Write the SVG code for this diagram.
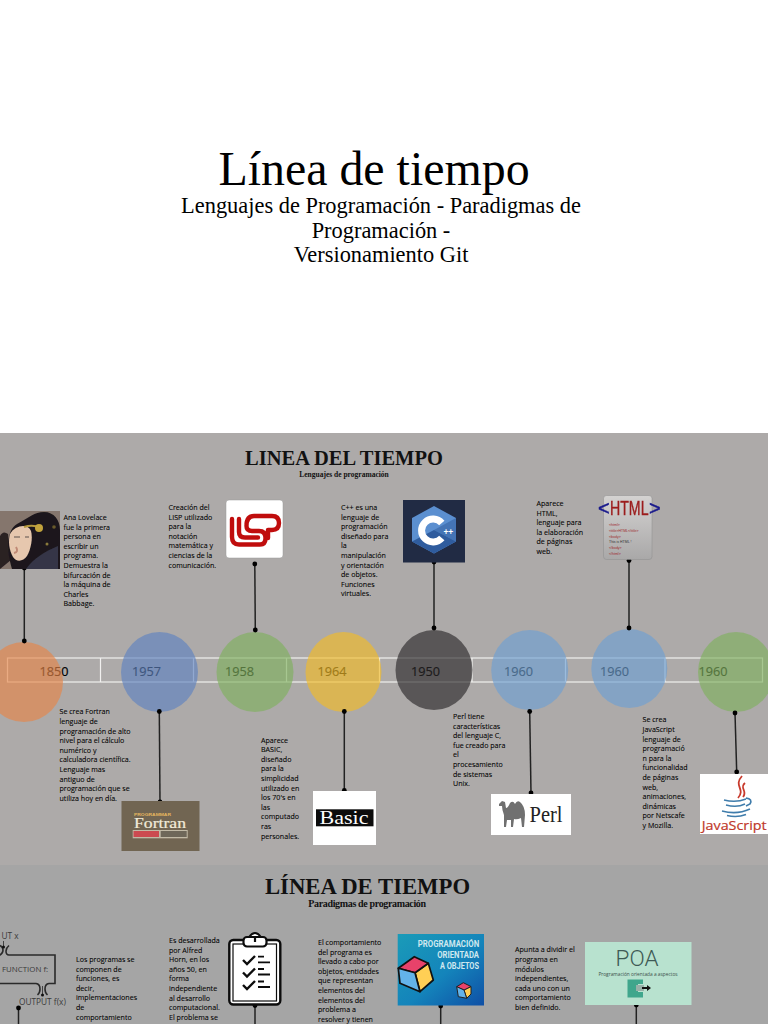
<svg xmlns="http://www.w3.org/2000/svg" width="768" height="1024" viewBox="0 0 768 1024">
<style>
.b{font:7.1px "Open Sans","Noto Sans",sans-serif;fill:#000;stroke:#000;stroke-width:.08}
.s{font-family:"Liberation Serif",serif;fill:#000;text-anchor:middle}
.h{font-weight:700;fill:#111}
.y{font:12.7px "Open Sans","Noto Sans",sans-serif;fill:#000;stroke:#000;stroke-width:.2}
.c{opacity:.65}
.l{fill:none;stroke:#222;stroke-width:1.5;marker-start:url(#dot);marker-end:url(#dot)}
.l2{fill:none;stroke:#222;stroke-width:1.5;marker-start:url(#dot)}
.f{font-family:"Open Sans",sans-serif;fill:#3a3a3a}
</style>
<defs>
<marker id="dot" markerUnits="userSpaceOnUse" markerWidth="6" markerHeight="6" refX="3" refY="3"><circle cx="3" cy="3" r="2.4" fill="#000"/></marker>
<linearGradient id="poo" x1="0" y1="0" x2="1" y2="1"><stop offset="0" stop-color="#1a9bb8"/><stop offset=".55" stop-color="#1484bb"/><stop offset="1" stop-color="#0f4fa5"/></linearGradient>
<linearGradient id="ht" x1="0" y1="0" x2="0" y2="1"><stop offset="0" stop-color="#d4d2d1"/><stop offset="1" stop-color="#a9a8a8"/></linearGradient>
<filter id="sf"><feGaussianBlur stdDeviation=".4"/></filter>
</defs>
<rect width="768" height="1024" fill="#fff"/>
<g id="titulo">
<text class="s" x="374" y="185" font-size="47.9">Línea de tiempo</text>
<text class="s" x="381" y="213" font-size="22.4">Lenguajes de Programación - Paradigmas de</text>
<text class="s" x="381" y="238" font-size="22.4">Programación -</text>
<text class="s" x="381" y="262" font-size="22.4">Versionamiento Git</text>
</g>
<rect id="fondo1" y="433" width="768" height="432" fill="#adaaa9"/>
<rect id="fondo2" y="865" width="768" height="159" fill="#a5a5a5"/>
<g id="cabecera1">
<text class="s h" x="344" y="465" font-size="20.5">LINEA DEL TIEMPO</text>
<text class="s h" x="344" y="476.500" font-size="7.500">Lenguajes de programación</text>
</g>
<g id="cabecera2">
<text class="s h" x="367.500" y="894" font-size="22.700">LÍNEA DE TIEMPO</text>
<text class="s h" x="367" y="906.500" font-size="10" letter-spacing="-.35">Paradigmas de programación</text>
</g>
<g id="tabla" fill="none" stroke="#f1f0ef" stroke-width="1.2">
<rect x="7.500" y="658" width="755" height="24"/>
<path d="M100.500 658v24M193.500 658v24M286.500 658v24M379.500 658v24M472 658v24M565.500 658v24M665 658v24"/>
</g>
<g id="anios">
<text class="y" x="39.500" y="676">1850</text>
<text class="y" x="132" y="676">1957</text>
<text class="y" x="225" y="676">1958</text>
<text class="y" x="317.500" y="676">1964</text>
<text class="y" x="411" y="676">1950</text>
<text class="y" x="504" y="676">1960</text>
<text class="y" x="600" y="676">1960</text>
<text class="y" x="698.500" y="676">1960</text>
</g>
<g id="circulos">
<ellipse id="n1850" class="c" cx="24" cy="682" rx="39" ry="40" fill="#e68548"/>
<ellipse id="n1957" class="c" cx="159.500" cy="672" rx="38.500" ry="40" fill="#5f82c0"/>
<ellipse id="n1958" class="c" cx="255" cy="672" rx="38.500" ry="40" fill="#7fb05e"/>
<ellipse id="n1964" class="c" cx="343.500" cy="672" rx="38" ry="40" fill="#f2bc26"/>
<ellipse id="n1950" class="c" cx="434" cy="670" rx="38.500" ry="40" fill="#2c2a2b"/>
<ellipse id="n1960a" class="c" cx="529.700" cy="670" rx="38.500" ry="40" fill="#6e9fd2"/>
<ellipse id="n1960b" class="c" cx="629.300" cy="668.500" rx="38" ry="39.500" fill="#6e9fd2"/>
<ellipse id="n1960c" class="c" cx="736" cy="672" rx="38" ry="40" fill="#7fb05e"/>
</g>
<g id="conectores">
<path class="l" d="M24.300 568V641"/>
<path class="l" d="M254.800 564L255.300 630"/>
<path class="l" d="M434 562V628"/>
<path class="l" d="M629 560.500V628"/>
<path class="l" d="M159.300 711.500L160 802"/>
<path class="l" d="M344.300 711.500V790.500"/>
<path class="l" d="M529.700 711.500L531 793"/>
<path class="l" d="M735 713L736.700 772"/>
<path class="l2" d="M18.500 1008V1024"/>
<path class="l2" d="M255 1005.500V1024"/>
<path class="l2" d="M440.700 1006V1024"/>
<path class="l2" d="M636.300 1005V1024"/>
</g>
<g id="ada">
<g filter="url(#sf)">
<rect x="0" y="511" width="60" height="58" fill="#85766d"/>
<path d="M0 536Q3 530 8 534L11 560L0 569Z" fill="#2a2024"/>
<path d="M12 569C6 548 7 530 17 524C30 517 34 512 44 512C54 512 60 520 60 530V569Z" fill="#1d181c"/>
<path d="M10 534C15 525 28 523 31 531C33 538 31 549 27 556C23 562 16 562 13 557C9 550 8 541 10 534Z" fill="#e6c7ae"/>
<path d="M16 547Q19 552 14 553" fill="none" stroke="#c08a76" stroke-width="2"/>
<path d="M14 537H20M25 537H29" stroke="#8a7a6e" stroke-width="1.300"/>
<path d="M24 527Q33 524 41 528" fill="none" stroke="#b4983d" stroke-width="2"/>
<circle cx="39" cy="528" r="4" fill="#c2a33c"/>
<circle cx="47" cy="544" r="1.500" fill="#8a7a3a"/>
<circle cx="54" cy="527" r="1.800" fill="#6a5a2c"/>
<path d="M26 569C34 558 44 552 58 546V569Z" fill="#343547"/>
</g>
<text class="b"><tspan x="63.500" y="520">Ana Lovelace</tspan><tspan x="63.500" y="529.600">fue la primera</tspan><tspan x="63.500" y="539.200">persona en</tspan><tspan x="63.500" y="548.800">escribir un</tspan><tspan x="63.500" y="558.400">programa.</tspan><tspan x="63.500" y="568">Demuestra la</tspan><tspan x="63.500" y="577.600">bifurcación de</tspan><tspan x="63.500" y="587.200">la máquina de</tspan><tspan x="63.500" y="596.800">Charles</tspan><tspan x="63.500" y="606.400">Babbage.</tspan></text>
</g>
<g id="lisp">
<rect x="226" y="500" width="57" height="58" rx="3" fill="#fff" stroke="#999" stroke-width=".5"/>
<g fill="none" stroke="#c00c0c" stroke-width="4.400" stroke-linecap="round" stroke-linejoin="round" filter="url(#sf)">
<path d="M232 519V537Q232 544.500 239 544.500H260Q265.500 544.500 265.500 538Q265.500 531 259 531H252Q246.500 531 246.500 526Q246.500 516 254 516H272Q279 516 279 523Q279 530 272 530H268V538"/>
<path d="M239 519V532Q239 537.500 245 537.500H258"/>
</g>
<text class="b"><tspan x="168.500" y="510">Creación del</tspan><tspan x="168.500" y="519.600">LISP utilizado</tspan><tspan x="168.500" y="529.200">para la</tspan><tspan x="168.500" y="538.800">notación</tspan><tspan x="168.500" y="548.400">matemática y</tspan><tspan x="168.500" y="558">ciencias de la</tspan><tspan x="168.500" y="567.600">comunicación.</tspan></text>
</g>
<g id="cpp">
<rect x="403" y="500" width="62" height="62.500" fill="#212b44"/>
<path d="M434 506L456 518V541.500L434 553.500L412 541.500V518Z" fill="#5b8fd0"/>
<path d="M456 518V541.500L434 530Z" fill="#4474b5"/>
<path d="M434 530L456 541.500L434 553.500L412 541.500Z" fill="#2f5c9e"/>
<path d="M441.800 523A11.500 11.500 0 1 0 441.800 538" fill="none" stroke="#fff" stroke-width="7"/>
<text x="443.500" y="534.500" font-family="Liberation Sans,sans-serif" font-weight="700" font-size="8.500" fill="#fff" letter-spacing="-.2">++</text>
<text class="b"><tspan x="341" y="510">C++ es una</tspan><tspan x="341" y="519.600">lenguaje de</tspan><tspan x="341" y="529.200">programación</tspan><tspan x="341" y="538.800">diseñado para</tspan><tspan x="341" y="548.400">la</tspan><tspan x="341" y="558">manipulación</tspan><tspan x="341" y="567.600">y orientación</tspan><tspan x="341" y="577.200">de objetos.</tspan><tspan x="341" y="586.800">Funciones</tspan><tspan x="341" y="596.400">virtuales.</tspan></text>
</g>
<g id="html">
<rect x="603.500" y="495.500" width="48.500" height="64" rx="3" fill="url(#ht)" stroke="#8c8c8c" stroke-width=".5"/>
<g font-family="Liberation Sans,sans-serif" font-size="20" filter="url(#sf)" stroke-width=".4">
<text x="598" y="514.500" fill="#1a1a8c" stroke="#1a1a8c">&lt;</text>
<text x="610" y="514.500" fill="#9c1c1c" stroke="#9c1c1c" textLength="38.500" lengthAdjust="spacingAndGlyphs">HTML</text>
<text x="649" y="514.500" fill="#1a1a8c" stroke="#1a1a8c">&gt;</text>
</g>
<g font-family="Liberation Sans,sans-serif" font-size="3.500" fill="#a03030"><text x="609" y="526.300">&lt;html&gt;</text><text x="609" y="532">&lt;title&gt;HTML&lt;/title&gt;</text><text x="609" y="537.500">&lt;body&gt;</text><text x="609" y="543.200" fill="#333">This is HTML !</text><text x="609" y="549">&lt;/body&gt;</text><text x="609" y="554.700">&lt;/html&gt;</text></g>
<text class="b"><tspan x="536.500" y="506">Aparece</tspan><tspan x="536.500" y="515.600">HTML,</tspan><tspan x="536.500" y="525.200">lenguaje para</tspan><tspan x="536.500" y="534.800">la elaboración</tspan><tspan x="536.500" y="544.400">de páginas</tspan><tspan x="536.500" y="554">web.</tspan></text>
</g>
<g id="fortran">
<rect x="121.500" y="801" width="78" height="50" fill="#716552"/>
<text x="134" y="815.500" font-family="Liberation Sans,sans-serif" font-weight="700" font-size="3.700" fill="#e5b75f" textLength="37" lengthAdjust="spacingAndGlyphs">PROGRAMMAR</text>
<text x="134" y="827.500" font-family="Liberation Serif,serif" font-size="15" fill="#f1ebda" stroke="#f1ebda" stroke-width=".2" textLength="52" lengthAdjust="spacingAndGlyphs">Fortran</text>
<rect x="132.700" y="830" width="55" height="8.300" fill="#c2baa6"/>
<rect x="133.500" y="831" width="25.500" height="6" fill="#cc4a50"/>
<rect x="160.700" y="831" width="26" height="6" fill="#6e6759"/>
<text class="b"><tspan x="59.500" y="714.300">Se crea Fortran</tspan><tspan x="59.500" y="723.900">lenguaje de</tspan><tspan x="59.500" y="733.500">programación de alto</tspan><tspan x="59.500" y="743.100">nivel para el cálculo</tspan><tspan x="59.500" y="752.700">numérico y</tspan><tspan x="59.500" y="762.300">calculadora científica.</tspan><tspan x="59.500" y="771.900">Lenguaje mas</tspan><tspan x="59.500" y="781.500">antiguo de</tspan><tspan x="59.500" y="791.100">programación que se</tspan><tspan x="59.500" y="800.700">utiliza hoy en día.</tspan></text>
</g>
<g id="basic">
<rect x="313" y="791" width="63" height="54" fill="#fff"/>
<rect x="316" y="809.300" width="57.500" height="17" fill="#0c0c0c"/>
<text x="319.500" y="824" font-family="Liberation Serif,serif" font-size="19" fill="#fff" textLength="49" lengthAdjust="spacingAndGlyphs">Basic</text>
<text class="b"><tspan x="261" y="742.600">Aparece</tspan><tspan x="261" y="752.200">BASIC,</tspan><tspan x="261" y="761.800">diseñado</tspan><tspan x="261" y="771.400">para la</tspan><tspan x="261" y="781">simplicidad</tspan><tspan x="261" y="790.600">utilizado en</tspan><tspan x="261" y="800.200">los 70's en</tspan><tspan x="261" y="809.800">las</tspan><tspan x="261" y="819.400">computado</tspan><tspan x="261" y="829">ras</tspan><tspan x="261" y="838.600">personales.</tspan></text>
</g>
<g id="perl">
<rect x="491" y="794" width="80" height="41" fill="#fff"/>
<path d="M499 804L502 801L505 802L506 808Q508 808 510 803Q513 800 515 804Q517 800 520 802Q525 806 525 815L524 827H522L521 818Q517 820 514 819L513 827H511L511 820L507 820L506 827H504L504 815Q502 810 502 806L499 806Z" fill="#707070" filter="url(#sf)"/>
<text x="529.500" y="821.700" font-family="Liberation Serif,serif" font-size="22.500" fill="#222" textLength="33" lengthAdjust="spacingAndGlyphs">Perl</text>
<text class="b"><tspan x="453" y="719">Perl tiene</tspan><tspan x="453" y="728.600">características</tspan><tspan x="453" y="738.200">del lenguaje C,</tspan><tspan x="453" y="747.800">fue creado para</tspan><tspan x="453" y="757.400">el</tspan><tspan x="453" y="767">procesamiento</tspan><tspan x="453" y="776.600">de sistemas</tspan><tspan x="453" y="786.200">Unix.</tspan></text>
</g>
<g id="javascript">
<rect x="700" y="774" width="68" height="60" fill="#fff"/>
<path d="M742 776C733 786 746 789 738 798M745 783C739 788 748 791 743 797" fill="none" stroke="#c83a2c" stroke-width="1.800"/>
<path d="M724 800Q736 803 746 799M726 805Q737 808 745 804M722 811Q737 815 750 809M727 815.500Q737 818 746 814.500M746 798Q753 799 750 804L746 806" fill="none" stroke="#3f7cab" stroke-width="1.600"/>
<text x="701.700" y="830" font-family="Open Sans,sans-serif" font-size="13.500" fill="#c0392b" stroke="#c0392b" stroke-width=".2" textLength="65" lengthAdjust="spacingAndGlyphs">JavaScript</text>
<text class="b"><tspan x="642.500" y="722.300">Se crea</tspan><tspan x="642.500" y="731.900">JavaScript</tspan><tspan x="642.500" y="741.500">lenguaje de</tspan><tspan x="642.500" y="751.100">programació</tspan><tspan x="642.500" y="760.700">n para la</tspan><tspan x="642.500" y="770.300">funcionalidad</tspan><tspan x="642.500" y="779.900">de páginas</tspan><tspan x="642.500" y="789.500">web,</tspan><tspan x="642.500" y="799.100">animaciones,</tspan><tspan x="642.500" y="808.700">dinámicas</tspan><tspan x="642.500" y="818.300">por Netscafe</tspan><tspan x="642.500" y="827.900">y Mozilla.</tspan></text>
</g>
<g id="funcional">
<text class="f" x="18.500" y="938.500" text-anchor="end" font-size="8.300">UT x</text>
<path d="M-2 955H0Q3 953 3 950Q3 947 0 945.500M9 945.500Q6 948 6 951Q6 955 9 955H55V983.500H49Q45 984 45 989Q45 993 47.500 995M37.500 995Q40 993 40 989Q40 984 36 983.500H-2" fill="none" stroke="#2a2a2a" stroke-width="1.600"/>
<path d="M3.500 941V947M42.500 986V995" stroke="#2a2a2a" stroke-width=".8"/>
<circle cx="3.500" cy="947" r="1.500" fill="#111"/>
<circle cx="42.500" cy="995" r="1.500" fill="#111"/>
<text class="f" x="2" y="972" font-size="7.900">FUNCTION f:</text>
<text class="f" x="19" y="1005" font-size="8.300">OUTPUT f(x)</text>
<text class="b"><tspan x="76" y="962">Los programas se</tspan><tspan x="76" y="971.600">componen de</tspan><tspan x="76" y="981.200">funciones, es</tspan><tspan x="76" y="990.800">decir,</tspan><tspan x="76" y="1000.400">implementaciones</tspan><tspan x="76" y="1010">de</tspan><tspan x="76" y="1019.600">comportamiento</tspan></text>
</g>
<g id="logico">
<rect x="229.300" y="940" width="51" height="64.500" rx="4" fill="#fff" stroke="#0c0c0c" stroke-width="2.400"/>
<rect x="233" y="944" width="43.500" height="57" fill="none" stroke="#0c0c0c" stroke-width="1.200"/>
<rect x="243.500" y="937" width="23" height="9.500" rx="3.500" fill="#fff" stroke="#0c0c0c" stroke-width="2.200"/>
<path d="M249 937Q255 929 261 937Z" fill="#fff" stroke="#0c0c0c" stroke-width="1.800"/>
<path d="M255 938V942" stroke="#0c0c0c" stroke-width="2.200"/>
<path d="M243 960L247 964L255 956M243 972.500L247 976.500L255 968.500M243 985L247 989L255 981" fill="none" stroke="#0c0c0c" stroke-width="2.400"/>
<path d="M258 956.700H264M258 962.300H270M258 969H264M258 974.500H270M258 981.500H264M258 987H270" stroke="#0c0c0c" stroke-width="1.800"/>
<text class="b"><tspan x="169" y="943">Es desarrollada</tspan><tspan x="169" y="952.600">por Alfred</tspan><tspan x="169" y="962.200">Horn, en los</tspan><tspan x="169" y="971.800">años 50, en</tspan><tspan x="169" y="981.400">forma</tspan><tspan x="169" y="991">independiente</tspan><tspan x="169" y="1000.600">al desarrollo</tspan><tspan x="169" y="1010.200">computacional.</tspan><tspan x="169" y="1019.800">El problema se</tspan></text>
</g>
<g id="objetos">
<rect x="397.700" y="934" width="86.300" height="71.500" fill="url(#poo)"/>
<g font-family="Roboto,sans-serif" font-weight="700" font-size="9.500" fill="#cfe8ef">
<text x="417.700" y="946.700" textLength="61.500" lengthAdjust="spacingAndGlyphs">PROGRAMACIÓN</text>
<text x="437.300" y="958.300" textLength="41.700" lengthAdjust="spacingAndGlyphs">ORIENTADA</text>
<text x="440" y="969.300" textLength="39" lengthAdjust="spacingAndGlyphs">A OBJETOS</text>
</g>
<g stroke="#111" stroke-width="1.700" stroke-linejoin="round">
<path d="M415 972.700L428.300 963.300L433.300 980L420 991.700Z" fill="#ffcf55"/>
<path d="M414.300 956.700L398.300 968.300L415 972.700L428.300 963.300Z" fill="#e8426a"/>
<path d="M398.300 968.300L415 972.700L420 991.700L400 983.300Z" fill="#63b3ea"/>
</g>
<g stroke="#222" stroke-width="1" stroke-linejoin="round">
<path d="M464 990L471 986.500L471 994L466.700 998.300Z" fill="#ffcf55"/>
<path d="M463.300 982.700L456.700 986.700L464 990L471 986.500Z" fill="#e8426a"/>
<path d="M456.700 986.700L464 990L466.700 998.300L458.300 996.700Z" fill="#63b3ea"/>
</g>
<text class="b"><tspan x="318" y="945">El comportamiento</tspan><tspan x="318" y="954.600">del programa es</tspan><tspan x="318" y="964.200">llevado a cabo por</tspan><tspan x="318" y="973.800">objetos, entidades</tspan><tspan x="318" y="983.400">que representan</tspan><tspan x="318" y="993">elementos del</tspan><tspan x="318" y="1002.600">elementos del</tspan><tspan x="318" y="1012.200">problema a</tspan><tspan x="318" y="1021.800">resolver y tienen</tspan></text>
</g>
<g id="aspectos">
<rect x="585" y="942" width="106.500" height="63" fill="#b8e2cf"/>
<text x="637" y="966" text-anchor="middle" font-family="Roboto,sans-serif" font-weight="300" font-size="22.500" fill="#3e5a55">POA</text>
<text x="638" y="975.500" text-anchor="middle" font-family="Open Sans,sans-serif" font-size="4.800" fill="#3c4f4a">Programación orientada a aspectos</text>
<path d="M627.500 979.500H643V984H638V992H643V997.500H627.500Z" fill="#3fa68c"/>
<rect x="636" y="985" width="8" height="6" fill="#98b0a8"/>
<path d="M642 987H647V985L651 988L647 991V989H642Z" fill="#111"/>
<text class="b"><tspan x="515" y="952.300">Apunta a dividir el</tspan><tspan x="515" y="961.900">programa en</tspan><tspan x="515" y="971.500">módulos</tspan><tspan x="515" y="981.100">independientes,</tspan><tspan x="515" y="990.700">cada uno con un</tspan><tspan x="515" y="1000.300">comportamiento</tspan><tspan x="515" y="1009.900">bien definido.</tspan></text>
</g>
</svg>
